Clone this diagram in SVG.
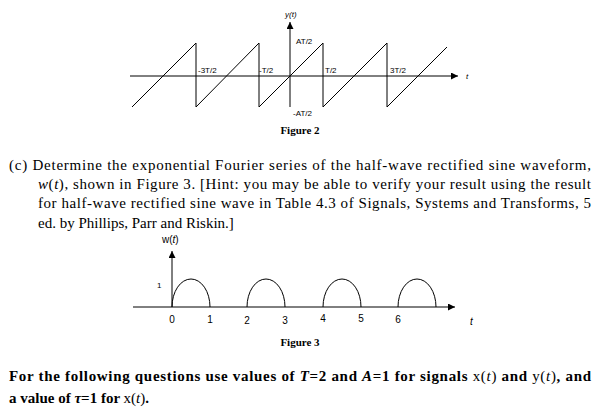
<svg xmlns="http://www.w3.org/2000/svg" width="600" height="416" viewBox="0 0 600 416">
<defs><marker id="ar" viewBox="0 0 10 10" refX="10" refY="5" markerWidth="10" markerHeight="7" markerUnits="userSpaceOnUse" orient="auto"><path d="M0,0L10,5L0,10z" fill="#000"/></marker></defs>
<style>.l{stroke:#000;stroke-width:1;fill:none}.s{font-size:8px}.m{font-size:10px}.t{font-size:15px}.b{font-weight:bold}.f{font-size:11px;font-weight:bold;text-anchor:middle}</style>
<rect width="600" height="416" fill="#fff"/>
<g id="fig2" font-family="Liberation Sans, Arial, sans-serif">
<line class="l" x1="130" y1="76" x2="458" y2="76" marker-end="url(#ar)"/>
<line class="l" x1="290" y1="107" x2="290" y2="22" marker-end="url(#ar)"/>
<path class="l" d="M132,107L196,43V107L259,43V107L323,43V107L387,43V107L447,47"/>
<text class="s" x="285" y="17" font-style="italic">y(t)</text>
<text class="s" x="296" y="44">AT/2</text>
<text class="s" x="293" y="116">-AT/2</text>
<text class="s" x="198" y="73">-3T/2</text>
<text class="s" x="259" y="73">-T/2</text>
<text class="s" x="325" y="73">T/2</text>
<text class="s" x="390" y="73">3T/2</text>
<text class="s" x="466" y="79" font-style="italic">t</text>
<text class="f" x="300" y="134" font-family="Liberation Serif, Times New Roman, serif">Figure 2</text>
</g>
<g id="text1" class="t" font-family="Liberation Serif, Times New Roman, serif">
<text x="9" y="170" textLength="582" lengthAdjust="spacing">(c) Determine the exponential Fourier series of the half-wave rectified sine waveform,</text>
<text x="38" y="189" textLength="553" lengthAdjust="spacing"><tspan font-style="italic">w</tspan>(<tspan font-style="italic">t</tspan>), shown in Figure 3. [Hint: you may be able to verify your result using the result</text>
<text x="38" y="208" textLength="553" lengthAdjust="spacing">for half-wave rectified sine wave in Table 4.3 of Signals, Systems and Transforms, 5</text>
<text x="38" y="228">ed. by Phillips, Parr and Riskin.]</text>
</g>
<g id="fig3" font-family="Liberation Sans, Arial, sans-serif">
<line class="l" x1="133" y1="307" x2="455" y2="307" marker-end="url(#ar)"/>
<line class="l" x1="172" y1="307" x2="172" y2="251" marker-end="url(#ar)"/>
<path class="l" d="M172,307A19,28 0 0 1 210,307M247,307A19,28 0 0 1 285,307M323,307A19,28 0 0 1 361,307M398,307A19,28 0 0 1 436,307"/>
<text class="m" x="162" y="243">w(<tspan font-style="italic">t</tspan>)</text>
<text class="s" x="157" y="288">1</text>
<g class="m" text-anchor="middle"><text x="172" y="323">0</text><text x="210" y="323">1</text><text x="247" y="324">2</text><text x="285" y="324">3</text><text x="323" y="322">4</text><text x="361" y="322">5</text><text x="398" y="323">6</text></g>
<text class="m" x="470" y="325" font-style="italic">t</text>
<text class="f" x="300" y="346" font-family="Liberation Serif, Times New Roman, serif">Figure 3</text>
</g>
<g id="text2" class="t b" font-family="Liberation Serif, Times New Roman, serif">
<text x="9" y="381" textLength="582" lengthAdjust="spacing">For the following questions use values of <tspan font-style="italic">T</tspan>=2 and <tspan font-style="italic">A</tspan>=1 for signals <tspan font-weight="normal">x(<tspan font-style="italic">t</tspan>)</tspan> and <tspan font-weight="normal">y(<tspan font-style="italic">t</tspan>)</tspan>, and</text>
<text x="9" y="403">a value of <tspan font-style="italic">τ</tspan>=1 for <tspan font-weight="normal">x(<tspan font-style="italic">t</tspan>)</tspan>.</text>
</g>
</svg>
